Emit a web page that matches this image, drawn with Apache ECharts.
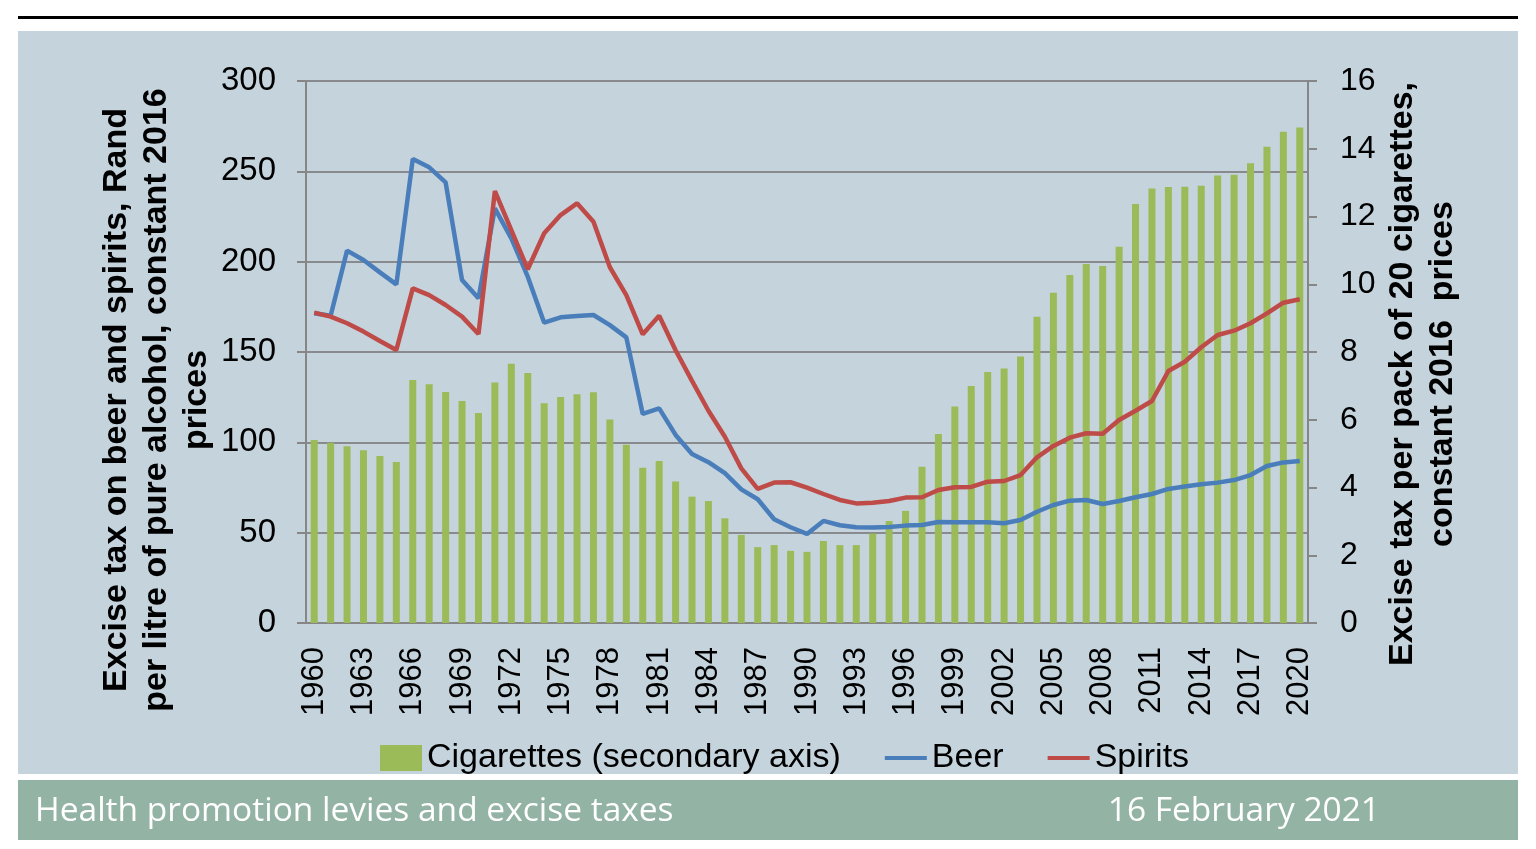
<!DOCTYPE html>
<head>
    <meta charset="utf-8">
    <title>Excise taxes</title>
    <style>
        html, body { margin: 0; padding: 0; background: #fff; }
        #main { width: 1536px; height: 849px; }
    </style>
</head>
<body>
    <div id="main"></div>
    <script src="https://cdn.jsdelivr.net/npm/echarts@6/dist/echarts.min.js"></script>
    <script type="text/javascript">

        // years on the category axis
        var years = ['1960','1961','1962','1963','1964','1965','1966','1967','1968','1969',
            '1970','1971','1972','1973','1974','1975','1976','1977','1978','1979',
            '1980','1981','1982','1983','1984','1985','1986','1987','1988','1989',
            '1990','1991','1992','1993','1994','1995','1996','1997','1998','1999',
            '2000','2001','2002','2003','2004','2005','2006','2007','2008','2009',
            '2010','2011','2012','2013','2014','2015','2016','2017','2018','2019','2020'];

        // cigarettes, Rand per pack of 20 (secondary axis)
        var cigarettes = [5.40, 5.32, 5.22, 5.10, 4.93, 4.75, 7.17, 7.05, 6.82, 6.55,
            6.20, 7.10, 7.65, 7.38, 6.49, 6.67, 6.75, 6.81, 6.01, 5.26,
            4.58, 4.78, 4.18, 3.73, 3.60, 3.09, 2.60, 2.24, 2.30, 2.13,
            2.10, 2.42, 2.30, 2.30, 2.64, 3.01, 3.31, 4.61, 5.58, 6.39,
            7.00, 7.41, 7.51, 7.87, 9.04, 9.75, 10.27, 10.60, 10.54, 11.11,
            12.37, 12.83, 12.87, 12.88, 12.91, 13.21, 13.23, 13.57, 14.06, 14.50, 14.63];

        // beer, Rand per litre of pure alcohol
        var beer = [171.5, 170.1, 206.1, 200.9, 194.1, 187.4, 256.8, 252.2, 243.9, 189.8,
            179.7, 229.5, 212.9, 191.7, 166.2, 169.2, 169.9, 170.5, 164.9, 158.1,
            115.7, 118.8, 104.1, 93.5, 89.0, 82.9, 74.0, 68.5, 57.4, 53.0,
            49.3, 56.5, 54.1, 53.0, 52.8, 53.1, 53.9, 54.2, 55.9, 55.7,
            55.7, 55.7, 55.2, 57.0, 61.6, 65.3, 67.7, 68.1, 65.9, 67.5,
            69.6, 71.4, 74.2, 75.5, 76.8, 77.7, 79.1, 81.9, 86.9, 88.9, 89.7];

        // spirits, Rand per litre of pure alcohol
        var spirits = [171.8, 169.6, 165.9, 161.3, 156.1, 151.1, 185.2, 181.5, 176.0, 169.6,
            160.0, 239.1, 217.5, 195.8, 215.7, 225.8, 232.3, 222.1, 196.9, 181.5,
            159.8, 170.1, 151.0, 134.0, 117.5, 103.1, 85.6, 74.2, 77.7, 77.9,
            74.9, 71.4, 68.1, 66.2, 66.6, 67.5, 69.4, 69.6, 73.6, 75.1,
            75.3, 78.2, 78.6, 81.9, 91.7, 98.0, 102.6, 105.0, 104.8, 112.4,
            117.5, 122.9, 139.5, 144.6, 152.6, 159.4, 161.8, 165.9, 171.4, 177.3, 179.2];

        var font = 'Liberation Sans, Arial, sans-serif';
        var axisGrey = '#868686';

        var myChart = echarts.init(document.getElementById('main'));

        var option = {
            animation: false,
            backgroundColor: '#ffffff',
            textStyle: { fontFamily: font },
            grid: { left: 306, right: 228, top: 81, bottom: 226 },
            legend: {
                left: 375,
                top: 736,
                itemWidth: 42,
                itemHeight: 26,
                itemGap: 42,
                textStyle: { fontSize: 34, color: '#000', fontFamily: font },
                data: [
                    { name: 'Cigarettes (secondary axis)', icon: 'rect' },
                    // hide the marker dot, keep only the line
                    { name: 'Beer', itemStyle: { opacity: 0 }, lineStyle: { width: 4 } },
                    { name: 'Spirits', itemStyle: { opacity: 0 }, lineStyle: { width: 4 } }
                ]
            },
            xAxis: {
                type: 'category',
                data: years,
                axisLine: { lineStyle: { color: axisGrey, width: 2 } },
                axisTick: { interval: 0, length: 10, lineStyle: { color: axisGrey, width: 2 } },
                axisLabel: { interval: 2, rotate: 90, margin: 24, fontSize: 31, color: '#000' },
                splitLine: { show: false }
            },
            yAxis: [{
                type: 'value',
                min: 0,
                max: 300,
                interval: 50,
                axisLine: { show: true, lineStyle: { color: axisGrey, width: 2 } },
                axisTick: { show: true, length: 9, lineStyle: { color: axisGrey, width: 2 } },
                axisLabel: { margin: 30, fontSize: 33, color: '#000' },
                splitLine: { lineStyle: { color: '#888a8e', width: 2 } }
            }, {
                type: 'value',
                min: 0,
                max: 16,
                interval: 2,
                position: 'right',
                axisLine: { show: true, lineStyle: { color: axisGrey, width: 2 } },
                axisTick: { show: true, length: 9, lineStyle: { color: axisGrey, width: 2 } },
                axisLabel: { margin: 32, fontSize: 32, color: '#000' },
                splitLine: { show: false }
            }],
            graphic: [
                { type: 'rect', z: -10, shape: { x: 18, y: 16, width: 1500, height: 3 }, style: { fill: '#000' } },
                { type: 'rect', z: -10, shape: { x: 18, y: 31, width: 1500, height: 743 }, style: { fill: '#c4d3dc' } },
                { type: 'rect', z: -10, shape: { x: 18, y: 780, width: 1500, height: 60 }, style: { fill: '#93b3a4' } },
                {
                    type: 'text', x: 35, y: 811,
                    style: { text: 'Health promotion levies and excise taxes', fill: '#fff',
                        font: '33.5px "Open Sans", sans-serif', textVerticalAlign: 'middle' }
                },
                {
                    type: 'text', x: 1380, y: 811,
                    style: { text: '16 February 2021', fill: '#fff', textAlign: 'right',
                        font: '33.5px "Open Sans", sans-serif', textVerticalAlign: 'middle' }
                },
                {
                    type: 'text', x: 157, y: 400, rotation: Math.PI / 2,
                    style: {
                        text: 'Excise tax on beer and spirits, Rand\nper litre of pure alcohol, constant 2016\nprices',
                        fill: '#000', font: 'bold 34px ' + font, textAlign: 'center',
                        textVerticalAlign: 'middle', lineHeight: 40
                    }
                },
                {
                    type: 'text', x: 1423, y: 374, rotation: Math.PI / 2,
                    style: {
                        text: 'Excise tax per pack of 20 cigarettes,\nconstant 2016  prices',
                        fill: '#000', font: 'bold 34px ' + font, textAlign: 'center',
                        textVerticalAlign: 'middle', lineHeight: 40
                    }
                }
            ],
            series: [{
                name: 'Cigarettes (secondary axis)',
                type: 'bar',
                yAxisIndex: 1,
                barWidth: 7,
                itemStyle: { color: '#9bbb59' },
                data: cigarettes
            }, {
                name: 'Beer',
                type: 'line',
                symbol: 'none',
                lineStyle: { color: '#4a7ebb', width: 4.5 },
                itemStyle: { color: '#4a7ebb' },
                data: beer
            }, {
                name: 'Spirits',
                type: 'line',
                symbol: 'none',
                lineStyle: { color: '#be4b48', width: 4.5 },
                itemStyle: { color: '#be4b48' },
                data: spirits
            }]
        };

        myChart.setOption(option);
    </script>
</body>
